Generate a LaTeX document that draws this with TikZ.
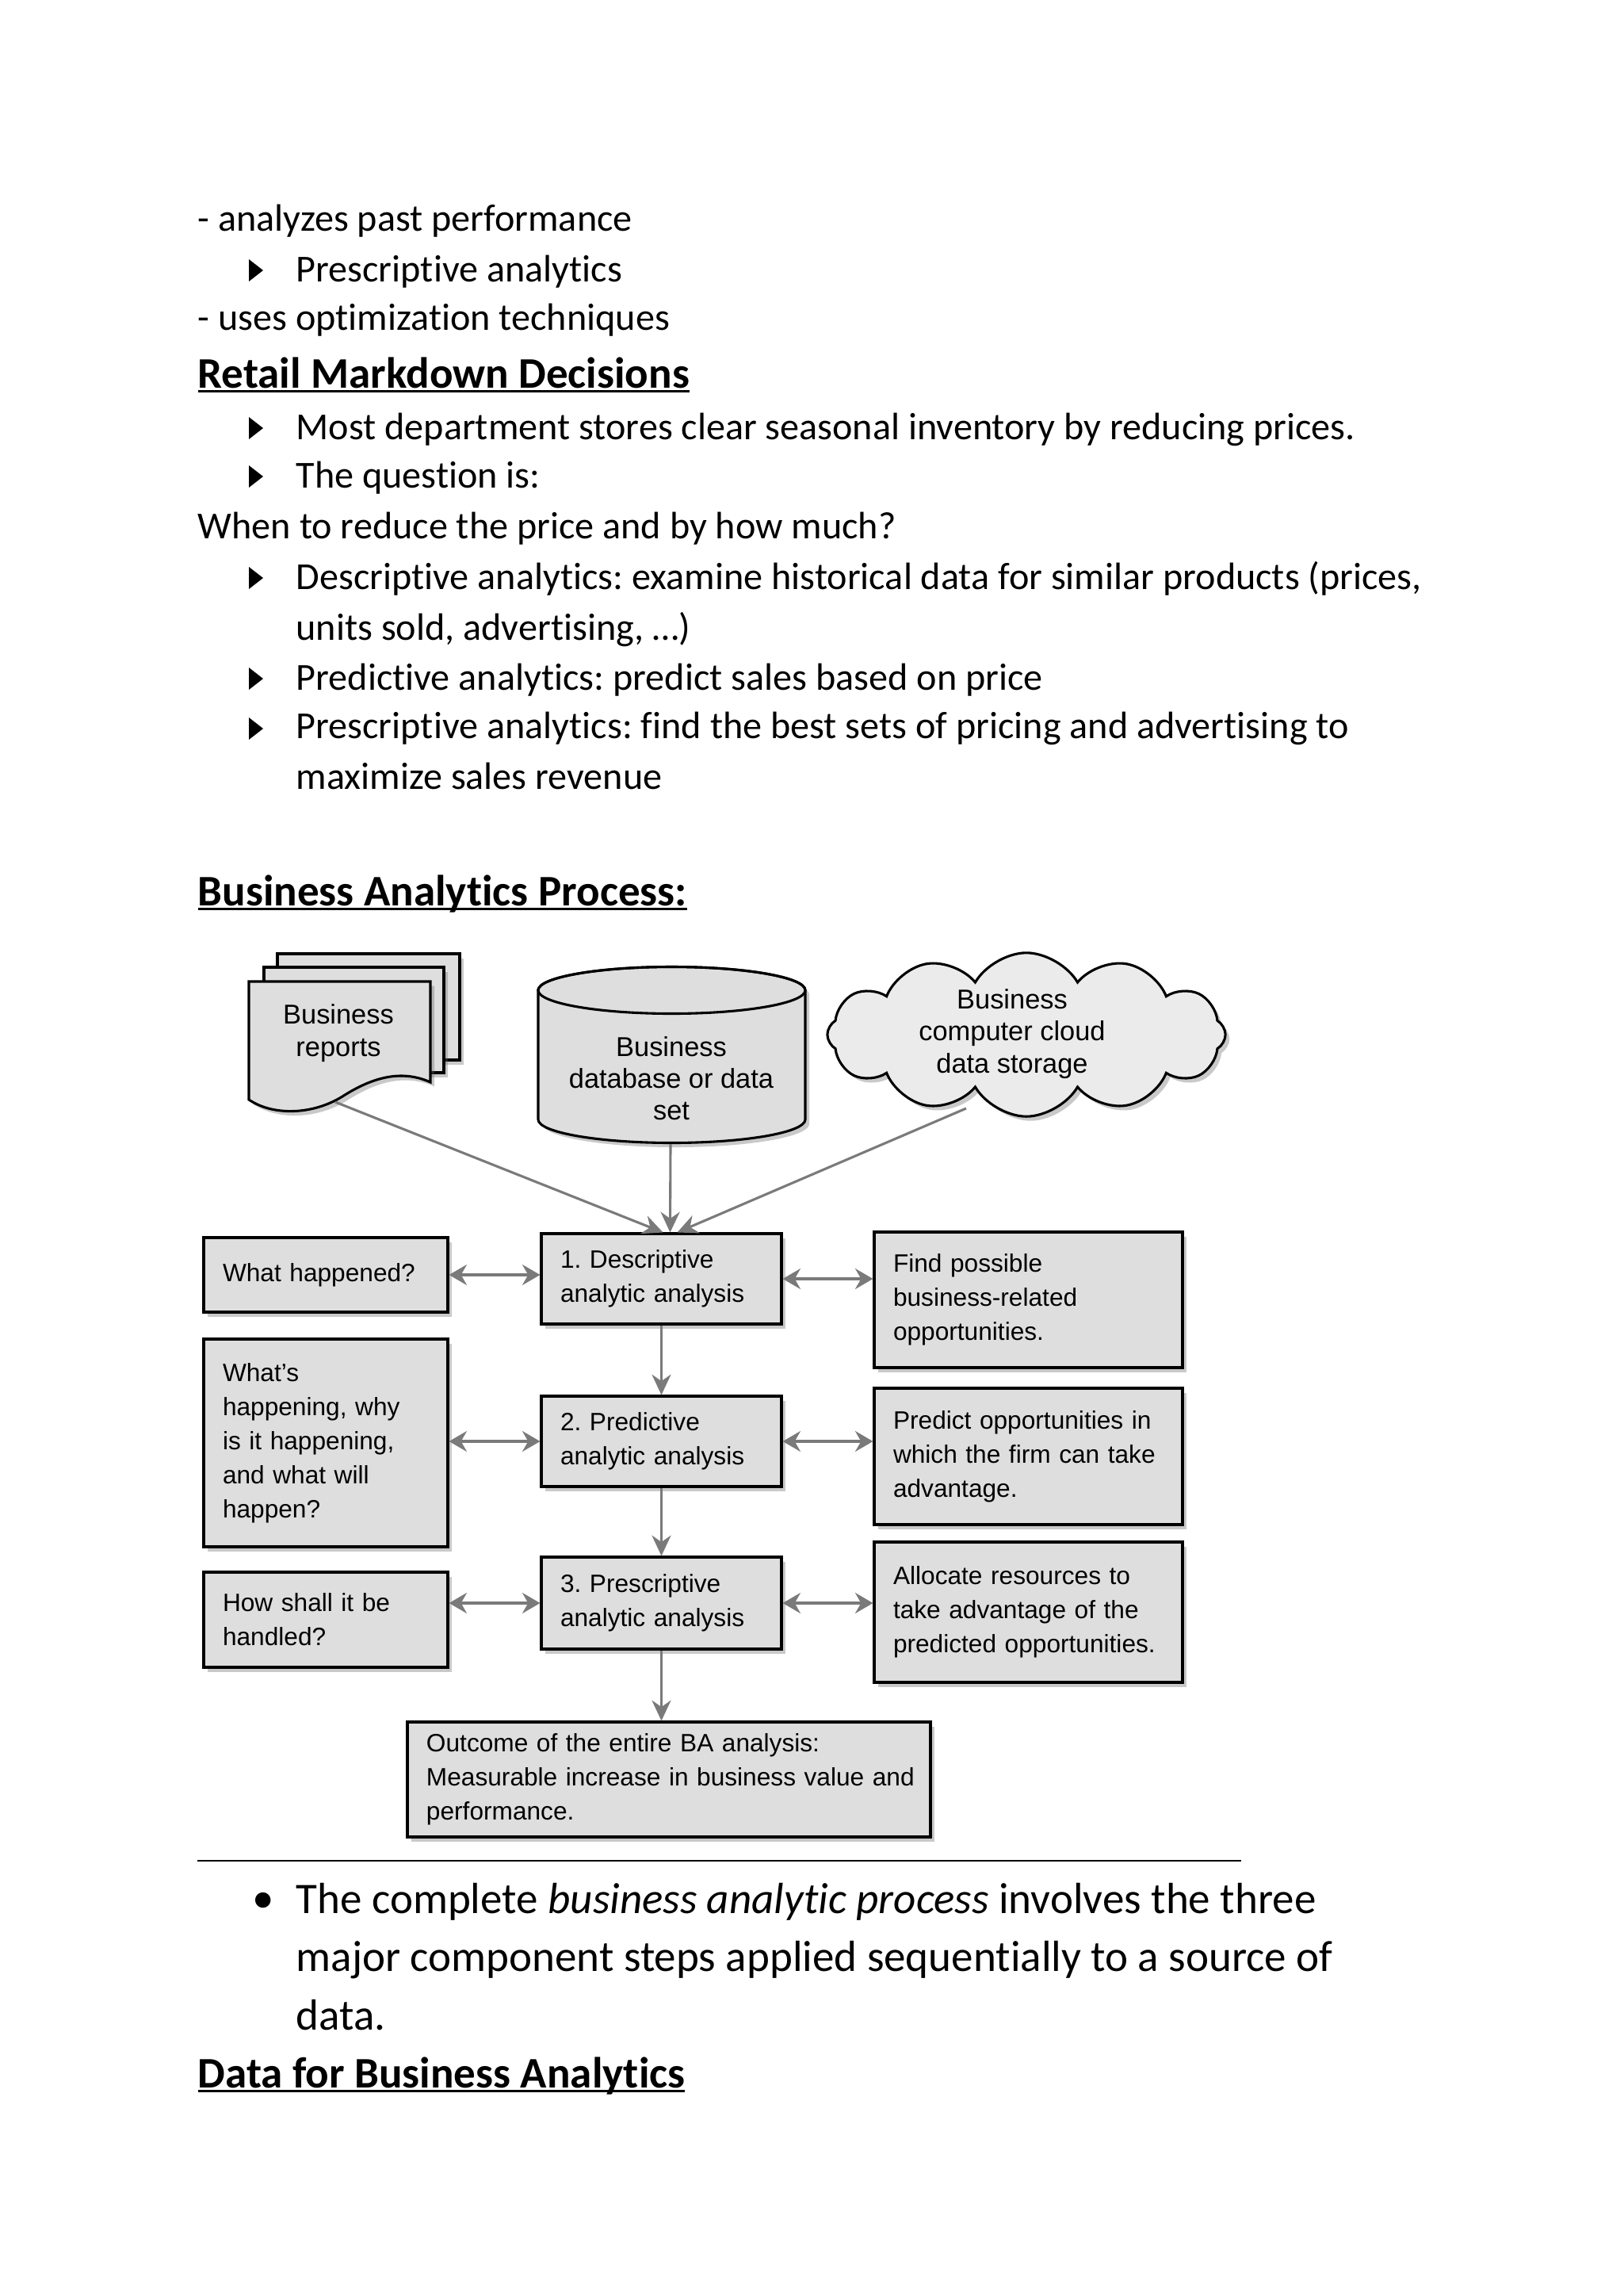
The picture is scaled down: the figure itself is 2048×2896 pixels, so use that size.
\documentclass[tikz,border=0pt]{standalone}
\usepackage{fontspec}
\setmainfont{Carlito}[Ligatures=NoCommon]
\newfontfamily\diafont{Liberation Sans}
\newcommand{\ulhd}[1]{\setbox0\hbox{#1}\rlap{\rule[-1.7pt]{\wd0}{0.8pt}}\box0}
\usetikzlibrary{shapes.symbols,shadows,arrows.meta,calc}
\def\pxu{0.290662pt}
\colorlet{boxgray}{black!13}
\colorlet{cloudgray}{black!8}
\colorlet{arrowgray}{black!52}
\tikzset{
  txt/.style={anchor=base west, inner sep=0pt, align=left, font=\fontsize{14}{18.4}\selectfont},
  bodybig/.style={txt, font=\fontsize{16}{21.3}\selectfont},
  head/.style={txt, font=\fontsize{16}{21.3}\selectfont\bfseries},
  boxshadow/.style={drop shadow={shadow xshift=1.5pt, shadow yshift=-1.6pt, fill=black!60, opacity=.35}},
  box/.style={draw, line width=0.9pt, fill=boxgray, boxshadow, align=left, inner xsep=6.976pt, inner ysep=0pt, font=\diafont\fontsize{9.2}{12.5}\selectfont},
  lcol/.style={box, text width=75.57pt},
  mcol/.style={box, text width=74.12pt},
  rcol/.style={box, text width=99.12pt},
  shapetext/.style={align=center, inner sep=0pt, font=\diafont\fontsize{10}{11.7}\selectfont},
  feed/.style={draw=arrowgray, line width=0.9pt, -{Stealth[length=7.5pt,width=7pt]}},
  twoway/.style={draw=arrowgray, line width=1.35pt, {Stealth[length=6.5pt,width=7.5pt]}-{Stealth[length=6.5pt,width=7.5pt]}}
}
\frenchspacing
\begin{document}
\begin{tikzpicture}[x=\pxu, y=-\pxu]
\useasboundingbox[fill=white] (0,0) rectangle (2048,2896);

\node[txt] (past) at (249,291) {- analyzes past performance};
\node[txt] (prescr1) at (373,355) {Prescriptive analytics};
\node[txt] (optim) at (249,416) {- uses optimization techniques};
\node[head] (retail) at (249,489) {\ulhd{Retail Markdown Decisions}};
\node[txt] (stores) at (373,554) {Most department stores clear seasonal inventory by reducing prices.};
\node[txt] (question) at (373,615) {The question is:};
\node[txt] (when) at (249,679) {When to reduce the price and by how much?};
\node[txt] (descr1) at (373,807) {Descriptive analytics: examine historical data for similar products (prices,\\units sold, advertising, …)};
\node[txt] (pred1) at (373,870) {Predictive analytics: predict sales based on price};
\node[txt] (prescr2) at (373,995) {Prescriptive analytics: find the best sets of pricing and advertising to\\maximize sales revenue};
\foreach \yy in {355,554,615,743,870,933}
  \fill (314,\yy) -- ++(0,-28) -- ++(18,14) -- cycle;
\node[head] (process) at (249,1142) {\ulhd{Business Analytics Process:}};

\draw[line width=0.9pt, fill=boxgray, boxshadow] (350,1203) rectangle (580,1337);
\draw[line width=0.9pt, fill=boxgray, boxshadow] (333,1220) rectangle (560,1353);
\draw[line width=0.9pt, fill=boxgray, boxshadow] (314,1238) -- (543,1238) -- (543,1365)
  .. controls (505,1348) and (468,1360) .. (432,1383)
  .. controls (395,1406) and (345,1408) .. (314,1387) -- cycle;
\node[shapetext] (reports) at (427,1303) {Business\\reports};

\draw[line width=0.9pt, fill=boxgray, boxshadow] (679,1249) -- (679,1412)
  arc[start angle=180, end angle=0, x radius=168.5, y radius=29.5] -- (1016,1249)
  arc[start angle=0, end angle=-180, x radius=168.5, y radius=29.5] -- cycle;
\draw[line width=0.9pt] (847.5,1249) ellipse[x radius=168.5, y radius=29.5];
\node[shapetext] (db) at (847,1360) {Business\\database or data\\set};

\node[cloud, cloud puffs=12, cloud puff arc=120, cloud ignores aspect, draw, line width=0.9pt, fill=cloudgray, boxshadow, minimum width=146pt, minimum height=60pt, inner sep=0pt] (cloud) at (1295,1305) {};
\node[shapetext] (cloudtext) at (1277,1304) {Business\\computer cloud\\data storage};

\node[lcol, minimum height=94*\pxu] (happened) at (411,1608) {What happened?};
\node[mcol, minimum height=114*\pxu] (descr) at (834.5,1613) {1. Descriptive\\analytic analysis};
\node[rcol, minimum height=171*\pxu] (findopp) at (1297.5,1639.5) {Find possible\\business-related\\opportunities.};
\node[lcol, minimum height=262*\pxu] (happening) at (411,1820) {What’s\\happening, why\\is it happening,\\and what will\\happen?};
\node[mcol, minimum height=114*\pxu] (predict) at (834.5,1818) {2. Predictive\\analytic analysis};
\node[rcol, minimum height=172*\pxu] (predopp) at (1297.5,1837) {Predict opportunities in\\which the firm can take\\advantage.};
\node[lcol, minimum height=120*\pxu] (handled) at (411,2043) {How shall it be\\handled?};
\node[mcol, minimum height=116*\pxu] (prescr) at (834.5,2022) {3. Prescriptive\\analytic analysis};
\node[rcol, minimum height=177*\pxu] (allocate) at (1297.5,2033.5) {Allocate resources to\\take advantage of the\\predicted opportunities.};
\node[box, text width=177.9pt, minimum height=145*\pxu] (outcome) at (844,2244.5) {\mbox{Outcome of the entire BA analysis:}\\\mbox{Measurable increase in business value and}\\performance.};

\coordinate (repfoot) at (423,1390);
\coordinate (dbfoot) at (846,1443);
\coordinate (cloudfoot) at (1219,1398);
\draw[feed] (repfoot) -- ($(descr.north)+(2,0)$);
\draw[feed] (dbfoot) -- ($(descr.north)+(11,0)$);
\draw[feed] (cloudfoot) -- ($(descr.north)+(20,0)$);

\draw[twoway] (happened.east) -- (happened.east -| descr.west);
\draw[twoway] (descr.east) -- (descr.east -| findopp.west);
\draw[twoway] (predict.west -| happening.east) -- (predict.west);
\draw[twoway] (predict.east) -- (predict.east -| predopp.west);
\draw[twoway] (prescr.west -| handled.east) -- (prescr.west);
\draw[twoway] (prescr.east) -- (prescr.east -| allocate.west);
\draw[feed] (descr.south) -- (predict.north);
\draw[feed] (predict.south) -- (prescr.north);
\draw[feed] (prescr.south) -- (prescr.south |- outcome.north);

\draw[line width=0.8pt] (249,2347) -- (1566,2347);
\node[bodybig] (dot) at (318,2412) {•};
\node[bodybig] (summary) at (373,2560) {The complete \textit{business analytic process} involves the three\\major component steps applied sequentially to a source of\\data.};
\node[head] (datahead) at (249,2633) {\ulhd{Data for Business Analytics}};
\end{tikzpicture}
\end{document}
